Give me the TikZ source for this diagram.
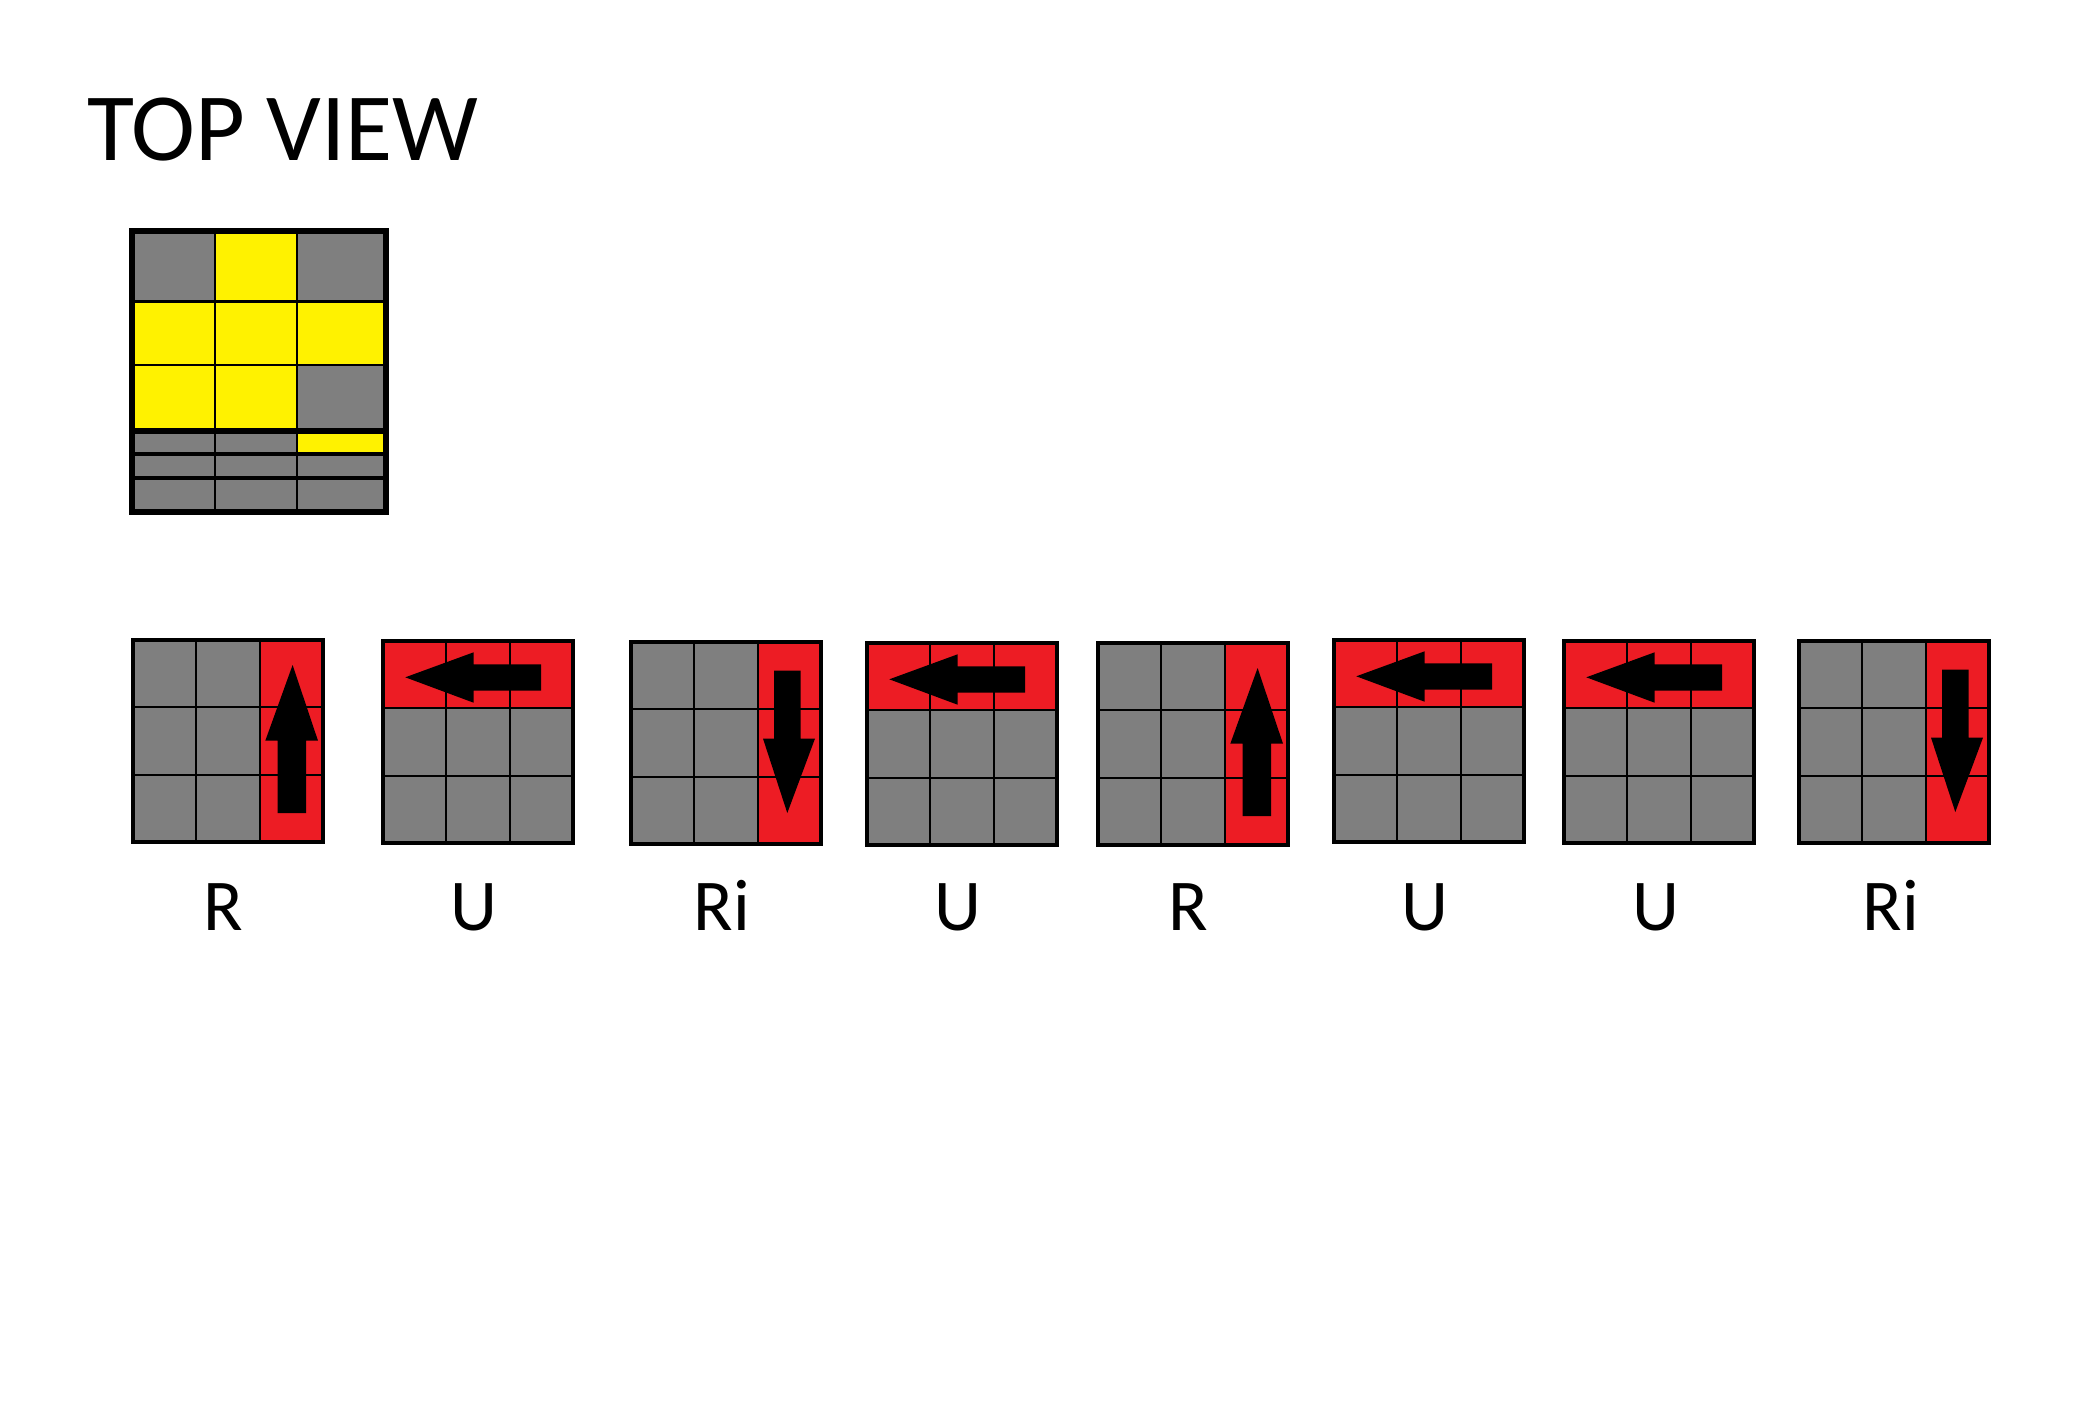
\documentclass[tikz,border=0pt]{standalone}
\usepackage{fontspec}
\setmainfont{Carlito}
\definecolor{cgray}{RGB}{127,127,127}
\definecolor{cyellow}{RGB}{255,242,0}
\definecolor{cred}{RGB}{237,28,36}
\tikzset{
  gridline/.style={line width=1pt, black},
  frame/.style={line width=1.8pt, black, line join=miter},
  movearrow/.style={fill=black},
  movelabel/.style={anchor=base, inner sep=0pt, font=\fontsize{36.5pt}{40pt}\selectfont},
  pics/cubebase/.style={code={
    \fill[cgray] (0,0) rectangle (190,202);
  }},
  pics/cubegrid/.style={code={
    \foreach \i in {1,2} {
      \draw[gridline] ({\i*190/3},0) -- ({\i*190/3},202);
      \draw[gridline] (0,{\i*202/3}) -- (190,{\i*202/3});
    }
    \draw[frame] (0,0) rectangle (190,202);
  }},
  pics/rmove/.style={code={
    \pic {cubebase};
    \fill[cred] (126.7,0) rectangle (190,202);
    \pic {cubegrid};
    \fill[movearrow] (159.6,25) -- (185,100.7) -- (173,100.7) -- (173,173) -- (144.6,173) -- (144.6,100.7) -- (132.3,100.7) -- cycle;
  }},
  pics/rimove/.style={code={
    \pic {cubebase};
    \fill[cred] (126.7,0) rectangle (190,202);
    \pic {cubegrid};
    \fill[movearrow] (143,28.6) -- (169.6,28.6) -- (169.6,96.6) -- (184,96.6) -- (156.3,171) -- (132,96.6) -- (143,96.6) -- cycle;
  }},
  pics/umove/.style={code={
    \pic {cubebase};
    \fill[cred] (0,0) rectangle (190,67.3);
    \pic {cubegrid};
    \fill[movearrow] (22.3,36.3) -- (90.6,11.3) -- (90.6,23.3) -- (158,23.3) -- (158,49.7) -- (90.6,49.7) -- (90.6,61.7) -- cycle;
  }},
}
\begin{document}
\begin{tikzpicture}[x=0.5pt,y=-0.5pt]
\useasboundingbox (0,0) rectangle (2100,1404);
\fill[white] (0,0) rectangle (2100,1404);

% title
\node[anchor=base west, inner sep=0pt, font=\fontsize{48.2pt}{52pt}\selectfont] (title) at (87,160) {TOP VIEW};

% top view
\fill[cgray] (131.7,230.7) rectangle (386,511.7);
\fill[cyellow] (215,230.7) rectangle (297,301.7);
\fill[cyellow] (131.7,301.7) rectangle (386,365);
\fill[cyellow] (131.7,365) rectangle (297,430.7);
\fill[cyellow] (297,430.7) rectangle (386,454);
\draw[line width=1.3pt] (215,230.7) -- (215,511.7);
\draw[line width=1.3pt] (297,230.7) -- (297,511.7);
\draw[line width=1.3pt] (131.7,301.7) -- (386,301.7);
\draw[line width=1.3pt] (131.7,365) -- (386,365);
\draw[line width=3pt] (131.7,430.7) -- (386,430.7);
\draw[line width=2pt] (131.7,454) -- (386,454);
\draw[line width=2.4pt] (131.7,478) -- (386,478);
\draw[line width=3pt, line join=miter] (131.7,230.7) rectangle (386,511.7);

% move sequence
\pic at (133,640) {rmove};
\pic at (383,641) {umove};
\pic at (631,642) {rimove};
\pic at (867,643) {umove};
\pic at (1098,643) {rmove};
\pic at (1334,640) {umove};
\pic at (1564,641) {umove};
\pic at (1799,641) {rimove};

\node[movelabel] (l1) at (223,930) {R};
\node[movelabel] (l2) at (474,930) {U};
\node[movelabel] (l3) at (722,930) {Ri};
\node[movelabel] (l4) at (958,930) {U};
\node[movelabel] (l5) at (1188,930) {R};
\node[movelabel] (l6) at (1425,930) {U};
\node[movelabel] (l7) at (1656,930) {U};
\node[movelabel] (l8) at (1891,930) {Ri};
\end{tikzpicture}
\end{document}
